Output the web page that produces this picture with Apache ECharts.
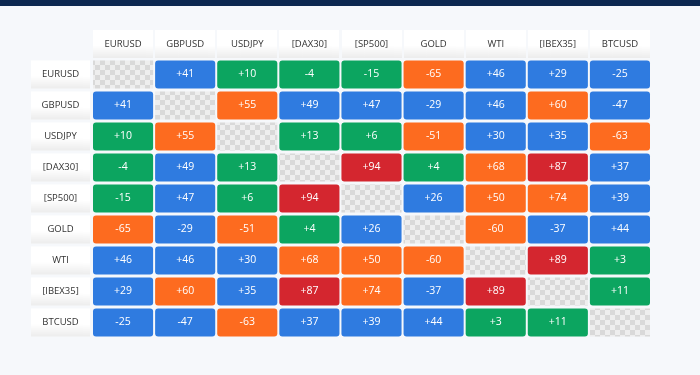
<!DOCTYPE html>
<html>
<head>
<meta charset="utf-8">
<script src="https://cdn.jsdelivr.net/npm/echarts@6/dist/echarts.min.js"></script>
<style>
html,body{margin:0;padding:0;background:#f6f8fb;}
#c{width:700px;height:375px;}
</style>
</head>
<body>
<div id="c"></div>
<script>
var symbols = ['EURUSD','GBPUSD','USDJPY','[DAX30]','[SP500]','GOLD','WTI','[IBEX35]','BTCUSD'];
var rowEURUSD = [null, 41, 10, -4, -15, -65, 46, 29, -25];
var rowGBPUSD = [41, null, 55, 49, 47, -29, 46, 60, -47];
var rowUSDJPY = [10, 55, null, 13, 6, -51, 30, 35, -63];
var rowDAX30  = [-4, 49, 13, null, 94, 4, 68, 87, 37];
var rowSP500  = [-15, 47, 6, 94, null, 26, 50, 74, 39];
var rowGOLD   = [-65, -29, -51, 4, 26, null, -60, -37, 44];
var rowWTI    = [46, 46, 30, 68, 50, -60, null, 89, 3];
var rowIBEX35 = [29, 60, 35, 87, 74, -37, 89, null, 11];
var rowBTCUSD = [-25, -47, -63, 37, 39, 44, 3, 11, null];
var rows = [rowEURUSD,rowGBPUSD,rowUSDJPY,rowDAX30,rowSP500,rowGOLD,rowWTI,rowIBEX35,rowBTCUSD];

var data = [];
rows.forEach(function(r, yi){ r.forEach(function(v, xi){ data.push([xi, yi, v]); }); });

function colorFor(v){
  var a = Math.abs(v);
  if (a >= 80) return '#d4262f';
  if (a >= 50) return '#fd6b1f';
  if (a >= 20) return '#2f7be0';
  return '#0ca560';
}

// checker pattern
var chk = document.createElement('canvas');
chk.width = 10; chk.height = 10;
var cx = chk.getContext('2d');
cx.fillStyle = '#eeeeee'; cx.fillRect(0,0,10,10);
cx.fillStyle = '#d9d9d9'; cx.fillRect(0,0,5,5); cx.fillRect(5,5,5,5);

// header gradient
var hg = document.createElement('canvas');
hg.width = 4; hg.height = 28;
var gx = hg.getContext('2d');
var grd = gx.createLinearGradient(0,0,0,28);
grd.addColorStop(0,'#ffffff'); grd.addColorStop(0.55,'#ffffff'); grd.addColorStop(1,'#ececec');
gx.fillStyle = grd; gx.fillRect(0,0,4,28);

var chart = echarts.init(document.getElementById('c'));
chart.setOption({
  backgroundColor: '#f6f8fb',
  animation: false,
  graphic: [{type:'rect', left:0, top:0, shape:{width:700, height:6}, style:{fill:'#0c2850'}}],
  grid: {left: 92, right: 49, top: 59, bottom: 37},
  xAxis: {
    type: 'category', position: 'top', data: symbols,
    axisLine: {show:false}, axisTick: {show:false}, splitLine: {show:false},
    axisLabel: {
      interval: 0, margin: 1,
      formatter: function(v){ return '{h|' + v + '}'; },
      rich: {h: {width: 60, height: 28, lineHeight: 28, align: 'center',
        backgroundColor: {image: hg}, color: '#333', fontSize: 9.5, fontFamily: 'Open Sans'}}
    }
  },
  yAxis: {
    type: 'category', inverse: true, data: symbols,
    axisLine: {show:false}, axisTick: {show:false}, splitLine: {show:false},
    axisLabel: {
      interval: 0, margin: 2,
      formatter: function(v){ return '{h|' + v + '}'; },
      rich: {h: {width: 59, height: 28, lineHeight: 28, align: 'center',
        backgroundColor: {image: hg}, color: '#333', fontSize: 9.5, fontFamily: 'Open Sans'}}
    }
  },
  series: [{
    type: 'custom',
    data: data,
    renderItem: function(params, api){
      var xi = api.value(0), yi = api.value(1), v = data[params.dataIndex][2];
      var p = api.coord([xi, yi]);
      var s = api.size([1, 1]);
      var w = s[0] - 2, h = s[1] - 3;
      var x0 = p[0] - w/2, y0 = p[1] - h/2;
      if (v === null) {
        return {type:'rect', shape:{x:x0, y:y0, width:w, height:h}, style:{fill:{image: chk, repeat:'repeat'}}};
      }
      return {type:'group', children:[
        {type:'rect', shape:{x:x0, y:y0, width:w, height:h, r:3}, style:{fill: colorFor(v)}},
        {type:'text', style:{x:p[0], y:p[1], text:(v > 0 ? '+' : '') + v, fill:'#fff',
          align:'center', verticalAlign:'middle', font:'10.5px "Open Sans"'}}
      ]};
    }
  }]
});
</script>
</body>
</html>
